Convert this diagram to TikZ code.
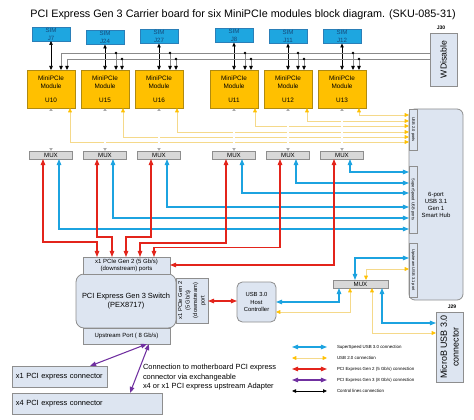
\documentclass[tikz,border=0pt]{standalone}
\usepackage{fontspec}
\usepackage{graphicx}
\setmainfont{Liberation Sans}
\usetikzlibrary{arrows.meta}
\definecolor{ssblue}{HTML}{1CA3E0}
\definecolor{pcired}{HTML}{E3241B}
\definecolor{yelhead}{HTML}{FFC000}
\definecolor{yelline}{HTML}{F5D98A}
\definecolor{purp}{HTML}{7030A0}
\definecolor{modfill}{HTML}{FFC000}
\definecolor{modline}{HTML}{B08A10}
\definecolor{simfill}{HTML}{1EA6E0}
\definecolor{simline}{HTML}{2A7FB8}
\definecolor{simtext}{HTML}{164A7A}
\definecolor{boxfill}{HTML}{DDE5F1}
\definecolor{boxline}{HTML}{8E8E8E}
\definecolor{muxfill}{HTML}{D8D8D8}
\definecolor{ctlgray}{HTML}{8A8A8A}
\definecolor{dblgray}{HTML}{A0A0A0}
\newcommand{\fsz}[2]{\fontsize{#1}{#2}\selectfont}
\newcommand{\vstack}[1]{\vbox{\halign{\hfil##\hfil\cr#1\crcr}}}
\tikzset{
  Tb/.tip={Triangle[length=4.6pt,width=3.4pt]},
  Ts/.tip={Triangle[length=3pt,width=2.6pt]},
  Ty/.tip={Triangle[length=3.2pt,width=2.8pt,color=yelhead]},
  Tk/.tip={Triangle[length=3pt,width=2.6pt,color=black]},
  simbox/.style={draw=simline, fill=simfill, line width=0.5pt, minimum width=28.5pt, minimum height=10.5pt, font=\fsz{4.6}{6}, text=simtext},
  modbox/.style={draw=modline, fill=modfill, line width=0.6pt, minimum width=36pt, minimum height=28.5pt, font=\fsz{4.8}{6}},
  muxbox/.style={draw=boxline, fill=muxfill, line width=0.5pt, minimum width=32.25pt, minimum height=6pt, font=\fsz{4.6}{5}},
  lbox/.style={draw=boxline, fill=boxfill, line width=0.6pt},
  sidetxt/.style={font=\fsz{3}{3.5}},
  ssl/.style={draw=ssblue, line width=0.8pt, Tb-Tb},
  pcil/.style={draw=pcired, line width=0.8pt, Tb-Tb},
  purl/.style={draw=purp, line width=0.8pt, Tb-Tb},
  yel/.style={draw=yelline, line width=0.6pt, Ty-Ty},
  ctl/.style={draw=ctlgray, line width=0.6pt, -Tk},
  simarr/.style={draw=black, line width=0.5pt, Tk-Tk},
  dbl/.style={draw=dblgray, double=white, double distance=0.9pt, line width=0.55pt, {Latex[open,length=2.2pt,width=2.8pt]}-{Latex[open,length=2.2pt,width=2.8pt]}},
  lgtxt/.style={anchor=west, font=\fsz{3.3}{4}},
  jlab/.style={font=\bfseries\fsz{3.8}{4}},
}
\begin{document}
\begin{tikzpicture}[x=0.75pt,y=-0.75pt, every node/.style={inner sep=0pt, outer sep=0pt, align=center}]
\useasboundingbox (0,0) rectangle (474,420);

% title
\node[font=\fsz{8.1}{10}] (title) at (243,15) {PCI Express Gen 3 Carrier board for six MiniPCIe modules block diagram. (SKU-085-31)};

% SIM holders
\node[simbox] (simA) at (51,34) {SIM\\J7};
\node[simbox] (simB) at (105,37.5) {SIM\\J24};
\node[simbox] (simC) at (159,36.5) {SIM\\J27};
\node[simbox] (simD) at (234,35.5) {SIM\\J8};
\node[simbox] (simE) at (288,36.5) {SIM\\J11};
\node[simbox] (simF) at (342,36.5) {SIM\\J12};

% modules
\node[modbox] (u10) at (51,89) {MiniPCIe\\Module\\[4.5pt]U10};
\node[modbox] (u15) at (105,89) {MiniPCIe\\Module\\[4.5pt]U15};
\node[modbox] (u16) at (159,89) {MiniPCIe\\Module\\[4.5pt]U16};
\node[modbox] (u11) at (234,89) {MiniPCIe\\Module\\[4.5pt]U11};
\node[modbox] (u12) at (288,89) {MiniPCIe\\Module\\[4.5pt]U12};
\node[modbox] (u13) at (342,89) {MiniPCIe\\Module\\[4.5pt]U13};

% WDisable
\node[lbox, minimum width=20.25pt, minimum height=39.75pt, font=\fsz{6.5}{8}] (wd) at (443.5,59.5) {\rotatebox{90}{WDisable}};
\node[jlab] (j30) at (441,28) {J30};

% MUXes
\node[muxbox] (mux1) at (51,155) {MUX};
\node[muxbox] (mux2) at (105,155) {MUX};
\node[muxbox] (mux3) at (159,155) {MUX};
\node[muxbox] (mux4) at (234,155) {MUX};
\node[muxbox] (mux5) at (288,155) {MUX};
\node[muxbox] (mux6) at (342,155) {MUX};

% hub
\node[lbox, rounded corners=4.5pt, minimum width=40.5pt, minimum height=143.25pt, font=\fsz{4.5}{5.25}] (hub) at (436,204.5) {6-port\\USB 3.1\\Gen 1\\Smart Hub};
\node[lbox, minimum width=6pt, minimum height=30.75pt, sidetxt] (usb2) at (413,129.5) {\rotatebox{-90}{USB 2.0 ports}};
\node[lbox, minimum width=6pt, minimum height=50.25pt, sidetxt] (ssp) at (413,199.5) {\rotatebox{-90}{SuperSpeed USB ports}};
\node[lbox, minimum width=6pt, minimum height=40.5pt, sidetxt] (upp) at (413,270) {\rotatebox{-90}{Upstream USB 3.1 port}};

% switch
\node[lbox, rounded corners=6pt, minimum width=75pt, minimum height=40.5pt, font=\fsz{5.6}{6.75}] (sw) at (126,301) {PCI Express Gen 3 Switch\\(PEX8717)};
\node[lbox, minimum width=65.25pt, minimum height=12.75pt, font=\fsz{4.5}{5.2}] (ports) at (126.5,265.5) {x1 PCIe Gen 2 (5 Gb/s)\\(downstream) ports};
\node[lbox, minimum width=65.25pt, minimum height=12pt, font=\fsz{4.5}{5.2}] (ups) at (126.5,336) {Upstream Port ( 8 Gb/s)};
\node[lbox, minimum width=24pt, minimum height=33.75pt, font=\fsz{4.3}{5.6}] (side) at (192,300.5) {\rotatebox{90}{\vstack{x1 PCIe Gen 2\cr (5 Gb/s)\cr (downstream)\cr port}}};

% host controller
\node[lbox, rounded corners=4pt, minimum width=29.25pt, minimum height=30pt, font=\fsz{4.4}{5.6}] (host) at (256.5,302) {USB 3.0\\Host\\Controller};

% MUX 7
\node[muxbox, minimum width=41.25pt] (mux7) at (360.5,284) {MUX};

% MicroB
\node[lbox, minimum width=20.25pt, minimum height=52.5pt, font=\fsz{6.7}{8.8}] (mb) at (449.5,347) {\rotatebox{90}{\vstack{MicroB USB 3.0\cr connector}}};
\node[jlab] (j29) at (452,307) {J29};

% PCI express connectors
\node[lbox, minimum height=15.75pt, text width=65.25pt, inner xsep=3pt, align=left, font=\fsz{5.6}{7}] (x1) at (59.5,376.5) {x1 PCI express connector};
\node[lbox, minimum height=15.75pt, text width=106.5pt, inner xsep=3pt, align=left, font=\fsz{5.6}{7}] (x4) at (87,403.5) {x4 PCI express connector};

\node[anchor=north west, align=left, font=\fsz{5.6}{7.1}] (note) at (143,364.5) {Connection to motherboard PCI express\\connector via exchangeable\\x4 or x1 PCI express upstream Adapter};

% SIM <-> module
\draw[simarr] (simA.south) -- (u10.north);
\draw[simarr] (simB.south) -- (u15.north);
\draw[simarr] (simC.south) -- (u16.north);
\draw[simarr] (simD.south) -- (u11.north);
\draw[simarr] (simE.south) -- (u12.north);
\draw[simarr] (simF.south) -- (u13.north);

% control lines
\draw[ctl] (wd.west |- 0,53) -| (u10.north -| 61,0);
\draw[ctl] (wd.west |- 0,59) -| (u10.north -| 67,0);
\draw[ctl] (wd.west |- 0,53) -| (u15.north -| 116,0);
\draw[ctl] (wd.west |- 0,59) -| (u15.north -| 122,0);
\draw[ctl] (wd.west |- 0,53) -| (u16.north -| 170,0);
\draw[ctl] (wd.west |- 0,59) -| (u16.north -| 176,0);
\draw[ctl] (wd.west |- 0,53) -| (u11.north -| 245,0);
\draw[ctl] (wd.west |- 0,59) -| (u11.north -| 251,0);
\draw[ctl] (wd.west |- 0,53) -| (u12.north -| 298,0);
\draw[ctl] (wd.west |- 0,59) -| (u12.north -| 304,0);
\draw[ctl] (wd.west |- 0,53) -| (u13.north -| 353,0);
\draw[ctl] (wd.west |- 0,59) -| (u13.north -| 359,0);
\foreach \xa/\xb in {116/122,170/176,245/251,298/304,353/359}{
  \fill (\xa,53) circle (1.4);
  \fill (\xb,59) circle (1.4);
}

% USB 2.0 lines module -> hub
\draw[yel] (u10.south -| 70,0) |- (usb2.west |- 0,142);
\draw[yel] (u15.south -| 123,0) |- (usb2.west |- 0,137);
\draw[yel] (u16.south -| 177,0) |- (usb2.west |- 0,132);
\draw[yel] (u11.south -| 255,0) |- (usb2.west |- 0,126);
\draw[yel] (u12.south -| 307,0) |- (usb2.west |- 0,121);
\draw[yel] (u13.south -| 359,0) |- (usb2.west |- 0,115);

% module <-> MUX
\draw[dbl] (u10.south) -- (mux1.north);
\draw[dbl] (u15.south) -- (mux2.north);
\draw[dbl] (u16.south) -- (mux3.north);
\draw[dbl] (u11.south) -- (mux4.north);
\draw[dbl] (u12.south) -- (mux5.north);
\draw[dbl] (u13.south) -- (mux6.north);

% SuperSpeed MUX -> hub
\draw[ssl] (mux6.south -| 350,0) |- (ssp.west |- 0,172);
\draw[ssl] (mux5.south -| 296,0) |- (ssp.west |- 0,183);
\draw[ssl] (mux4.south -| 242,0) |- (ssp.west |- 0,193);
\draw[ssl] (mux3.south -| 167,0) |- (ssp.west |- 0,207);
\draw[ssl] (mux2.south -| 113,0) |- (ssp.west |- 0,218);
\draw[ssl] (mux1.south -| 59,0) |- (ssp.west |- 0,229);

% PCIe MUX -> switch ports
\draw[pcil] (mux1.south -| 43,0) |- (97,242) -- (ports.north -| 97,0);
\draw[pcil] (mux2.south -| 97,0) |- (112,237) -- (ports.north -| 112,0);
\draw[pcil] (mux3.south -| 151,0) |- (126,237) -- (ports.north -| 126,0);
\draw[pcil] (mux4.south -| 226,0) |- (140,243) -- (ports.north -| 140,0);
\draw[pcil] (mux5.south -| 280,0) |- (154,247.5) -- (ports.north -| 154,0);
\draw[pcil] (mux6.south -| 334,0) |- (ports.east |- 0,265);

% switch side port -> host
\draw[pcil] (side.east |- 0,301) -- (host.west |- 0,301);

% hub upstream <-> MUX7 <-> host / MicroB
\draw[ssl] (upp.west |- 0,258) -| (mux7.north -| 355,0);
\draw[yel] (upp.west |- 0,269) -| (mux7.north -| 366,0);
\draw[ssl] (mux7.south -| 339,0) |- (host.east |- 0,302);
\draw[yel] (mux7.south -| 350,0) |- (host.east |- 0,312);
\draw[ssl] (mux7.south -| 382,0) |- (mb.west |- 0,323);
\draw[yel] (mux7.south -| 372,0) |- (mb.west |- 0,333);

% upstream <-> connectors
\draw[purl] (ups.south -| 147,0) -- (x1.north -| 90,0);
\draw[purl] (ups.south -| 149,0) -- (x4.north -| 130,0);

% legend
\coordinate (la1) at (292,347); \coordinate (lb1) at (327,347);
\coordinate (la2) at (292,358); \coordinate (lb2) at (327,358);
\coordinate (la3) at (292,369); \coordinate (lb3) at (327,369);
\coordinate (la4) at (292,380); \coordinate (lb4) at (327,380);
\coordinate (la5) at (292,391); \coordinate (lb5) at (327,391);
\draw[ssl] (la1) -- (lb1);
\draw[yel] (la2) -- (lb2);
\draw[pcil] (la3) -- (lb3);
\draw[purl] (la4) -- (lb4);
\draw[draw=black, line width=0.6pt, Tk-Tk] (la5) -- (lb5);
\node[lgtxt] (lg1) at (337,347) {SuperSpeed USB 3.0 connection};
\node[lgtxt] (lg2) at (337,358) {USB 2.0 connection};
\node[lgtxt] (lg3) at (337,369) {PCI Express Gen 2 (5 Gb/s) connection};
\node[lgtxt] (lg4) at (337,380) {PCI Express Gen 3 (8 Gb/s) connection};
\node[lgtxt] (lg5) at (337,391) {Control lines connection};
\end{tikzpicture}
\end{document}
